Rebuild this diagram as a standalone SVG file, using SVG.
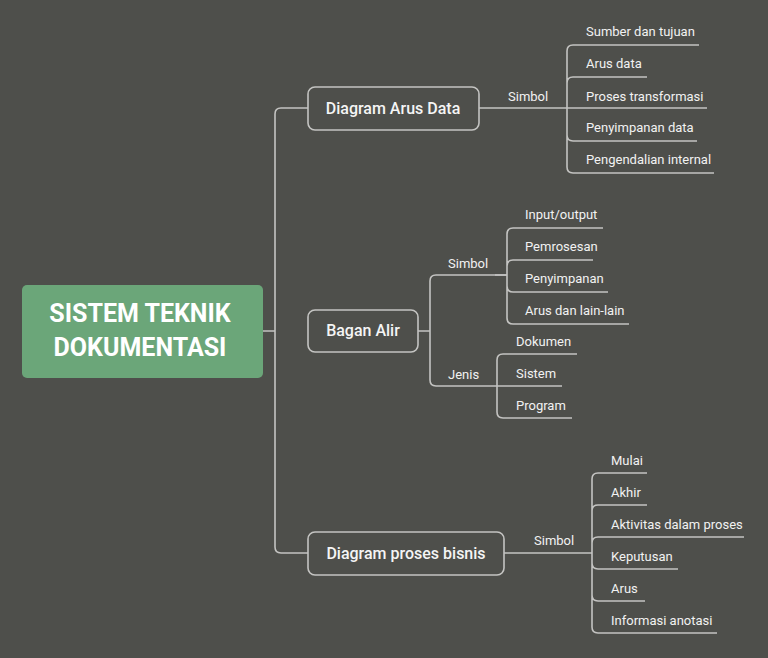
<svg xmlns="http://www.w3.org/2000/svg" width="768" height="658" viewBox="0 0 768 658">
<style>
.ln{fill:none;stroke:#c4c4c2;stroke-width:1.6}
.bx{fill:none;stroke:#c4c4c2;stroke-width:1.6}
.t{font-family:Roboto,"Liberation Sans",sans-serif;fill:#f2f2f2;font-size:13px}
.m{font-family:Roboto,"Liberation Sans",sans-serif;fill:#f5f5f5;font-size:16px;font-weight:500;text-anchor:middle}
.r{font-family:Roboto,"Liberation Sans",sans-serif;fill:#ffffff;font-size:25px;font-weight:bold;text-anchor:middle}
</style>
<rect width="768" height="658" fill="#4e4f4b"/>
<g id="connectors">
<path class="ln" d="M263 331H275M308 108H281Q275 108 275 114V547Q275 553 281 553H308"/>
<path class="ln" d="M479 108H567"/>
<path class="ln" d="M699 45H573Q567 45 567 51V167Q567 173 573 173H714M647 77H573Q567 77 567 83M567 108H707M697 141H573Q567 141 567 135"/>
<path class="ln" d="M418 331H430M507 275H436Q430 275 430 281V380Q430 386 436 386H497"/>
<path class="ln" d="M603 228H513Q507 228 507 234V318Q507 324 513 324H629M593 260H513Q507 260 507 266M608 292H513Q507 292 507 286M507 275H495"/>
<path class="ln" d="M577 354H503Q497 354 497 360V412Q497 418 503 418H572M562 386H497"/>
<path class="ln" d="M504 553H592"/>
<path class="ln" d="M647 473H598Q592 473 592 479V627Q592 633 598 633H717M647 505H598Q592 505 592 511M744 537H598Q592 537 592 543M678 569H598Q592 569 592 563M645 601H598Q592 601 592 595"/>
</g>
<g id="root"><rect x="22" y="285" width="241" height="93" rx="5" fill="#6ba679"/><text class="r" x="140" y="322">SISTEM TEKNIK</text><text class="r" x="140" y="356">DOKUMENTASI</text></g>
<g id="n1"><rect class="bx" x="308" y="87" width="171" height="43" rx="7"/><text class="m" x="393" y="114">Diagram Arus Data</text></g>
<g id="n2"><rect class="bx" x="308" y="310" width="110" height="42" rx="7"/><text class="m" x="363" y="336">Bagan Alir</text></g>
<g id="n3"><rect class="bx" x="308" y="532" width="196" height="43" rx="7"/><text class="m" x="406" y="559">Diagram proses bisnis</text></g>
<g id="n1-simbol"><text class="t" x="508" y="101">Simbol</text></g>
<g id="n1-leaves">
<text class="t" x="586" y="36">Sumber dan tujuan</text>
<text class="t" x="586" y="68">Arus data</text>
<text class="t" x="586" y="101">Proses transformasi</text>
<text class="t" x="586" y="132">Penyimpanan data</text>
<text class="t" x="586" y="164">Pengendalian internal</text>
</g>
<g id="n2-simbol"><text class="t" x="448" y="268">Simbol</text></g>
<g id="n2-simbol-leaves">
<text class="t" x="525" y="219">Input/output</text>
<text class="t" x="525" y="251">Pemrosesan</text>
<text class="t" x="525" y="283">Penyimpanan</text>
<text class="t" x="525" y="315">Arus dan lain-lain</text>
</g>
<g id="n2-jenis"><text class="t" x="448" y="379">Jenis</text></g>
<g id="n2-jenis-leaves">
<text class="t" x="516" y="346">Dokumen</text>
<text class="t" x="516" y="378">Sistem</text>
<text class="t" x="516" y="410">Program</text>
</g>
<g id="n3-simbol"><text class="t" x="534" y="545">Simbol</text></g>
<g id="n3-leaves">
<text class="t" x="611" y="465">Mulai</text>
<text class="t" x="611" y="497">Akhir</text>
<text class="t" x="611" y="529">Aktivitas dalam proses</text>
<text class="t" x="611" y="561">Keputusan</text>
<text class="t" x="611" y="593">Arus</text>
<text class="t" x="611" y="625">Informasi anotasi</text>
</g>
</svg>
